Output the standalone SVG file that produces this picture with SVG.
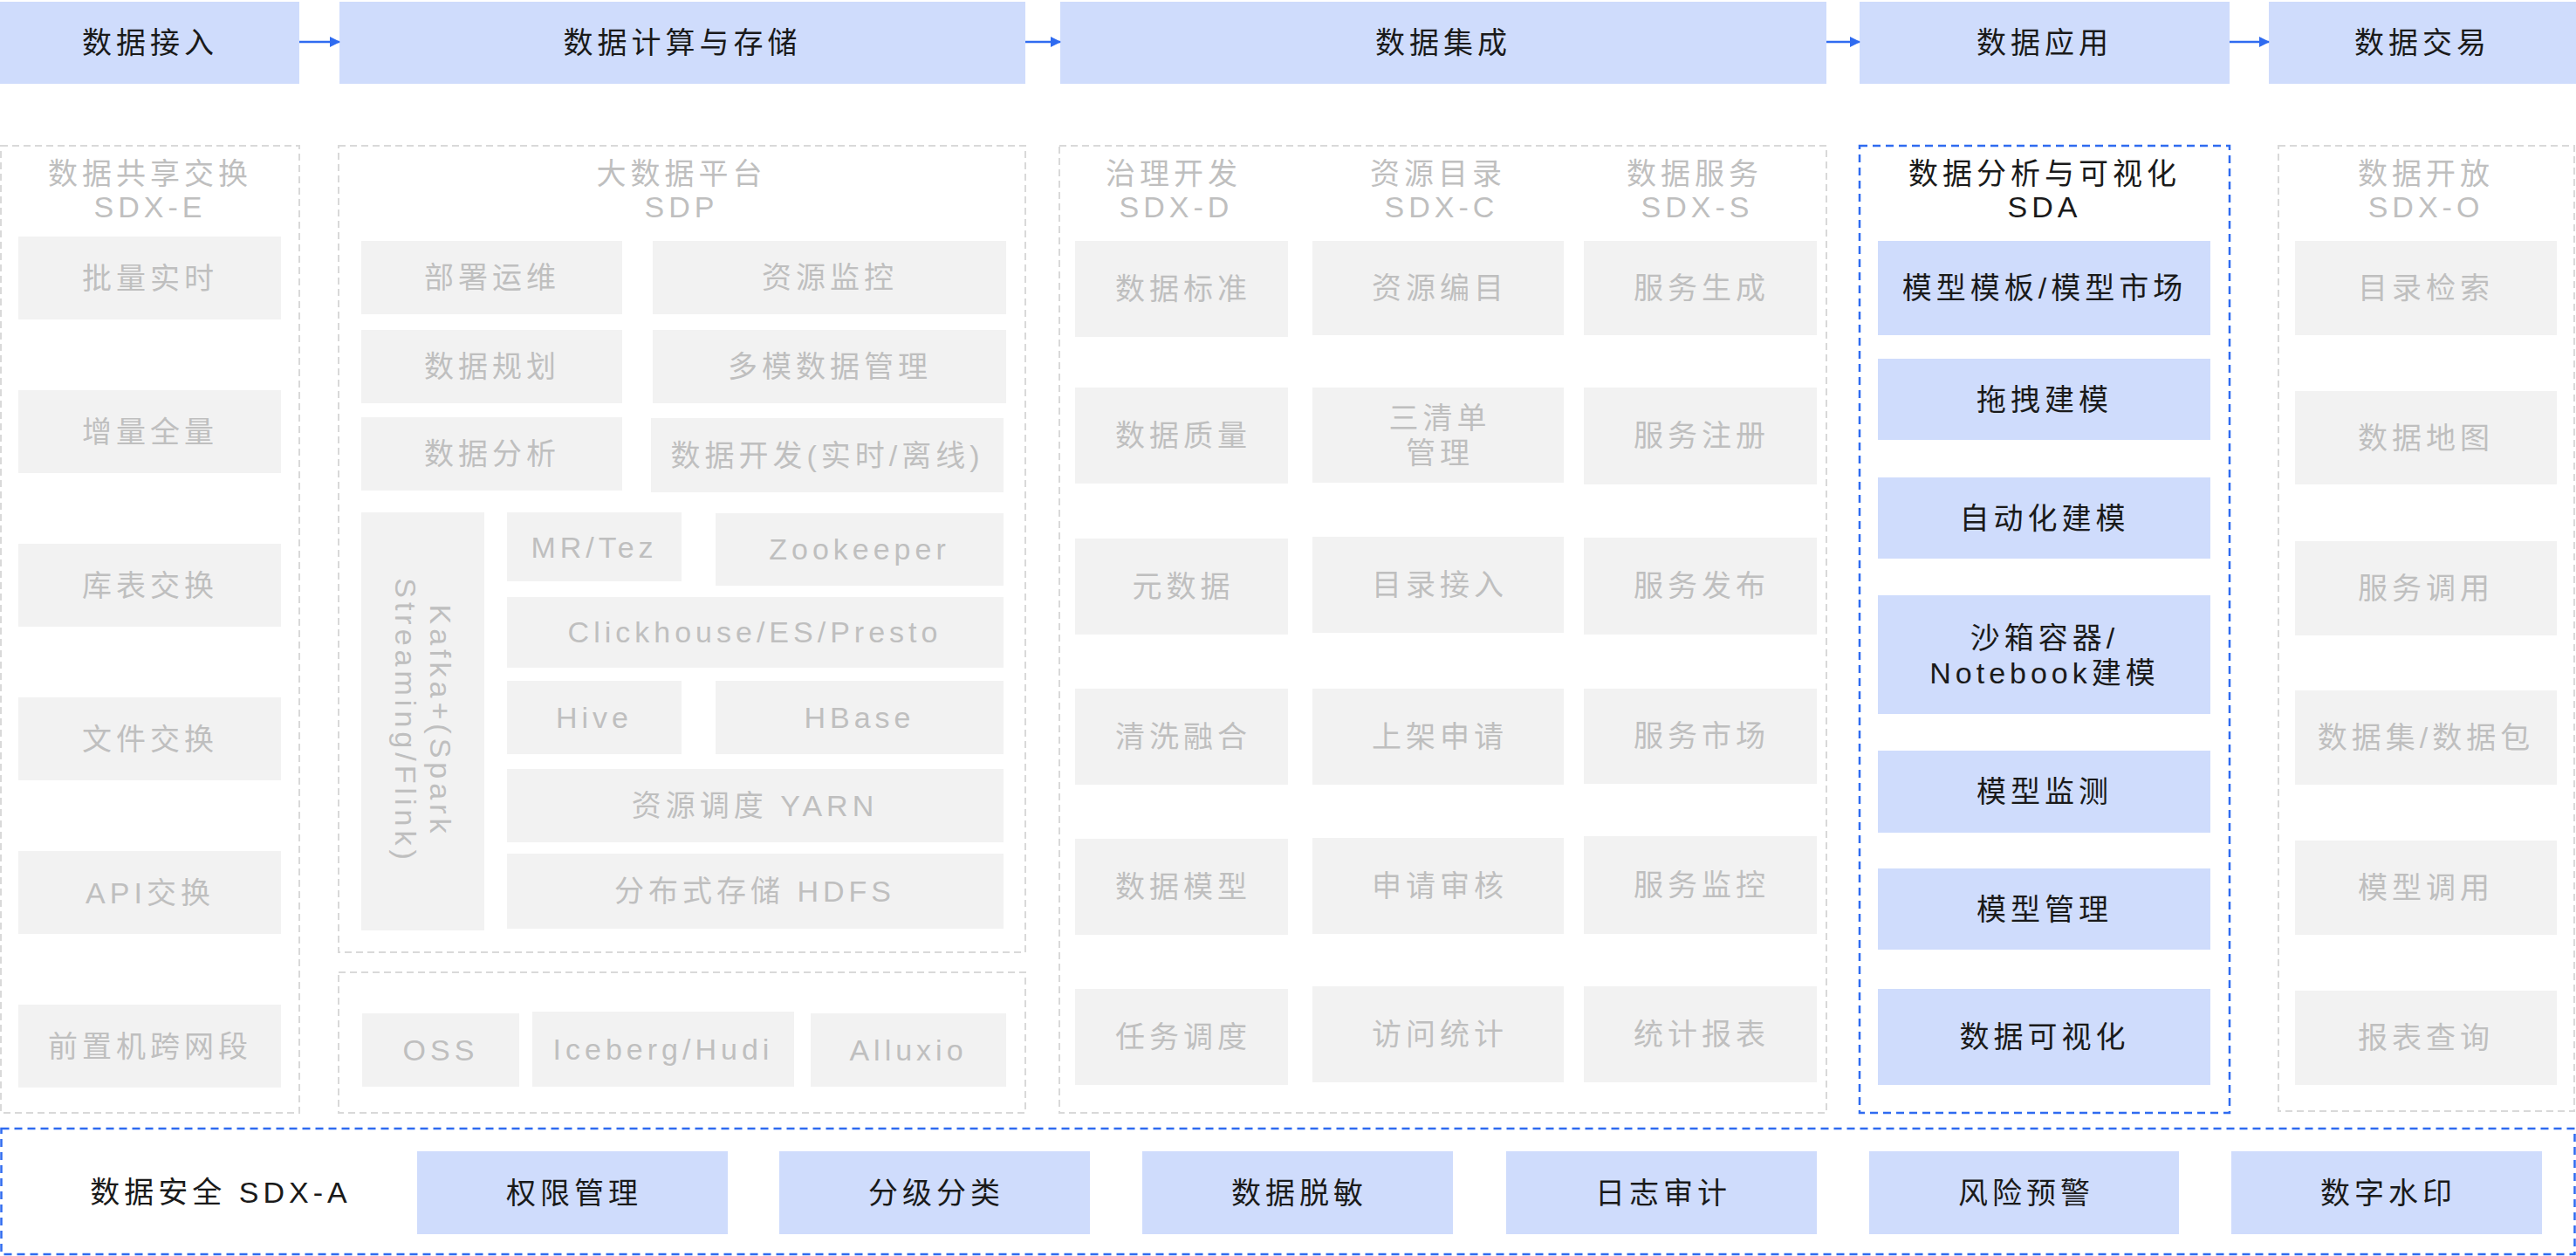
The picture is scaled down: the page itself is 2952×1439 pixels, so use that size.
<svg xmlns="http://www.w3.org/2000/svg" width="2952" height="1439" viewBox="0 0 2952 1439">
<style>
.pg{fill:none;stroke:#d9d9d9;stroke-width:2;stroke-dasharray:8 5}
.pb{fill:none;stroke:#2f6bf0;stroke-width:2.5;stroke-dasharray:9 6}
.g{fill:#f2f2f2}
.b{fill:#cfdcfc}
text{font-family:"Liberation Sans","Noto Sans CJK SC",sans-serif;font-size:34px;letter-spacing:5px;text-anchor:middle}
.tg{fill:#bfbfbf}
.tk{fill:#1a1a1a}
.arr{stroke:#2f6bf0;stroke-width:2.5;fill:none}
</style>
<defs>
<marker id="ah" markerUnits="userSpaceOnUse" markerWidth="12" markerHeight="12" refX="11" refY="6" orient="auto">
<path d="M0,0 L12,6 L0,12 Z" fill="#2f6bf0"/>
</marker>
</defs>
<rect width="2952" height="1439" fill="#ffffff"/>

<!-- top stage bar -->
<g id="stage-ingest"><rect class="b" x="0" y="2" width="343" height="94"/><text class="tk" x="172" y="61">数据接入</text></g>
<g id="stage-compute"><rect class="b" x="389" y="2" width="786" height="94"/><text class="tk" x="782" y="61">数据计算与存储</text></g>
<g id="stage-integrate"><rect class="b" x="1215" y="2" width="878" height="94"/><text class="tk" x="1654" y="61">数据集成</text></g>
<g id="stage-apply"><rect class="b" x="2131" y="2" width="424" height="94"/><text class="tk" x="2343" y="61">数据应用</text></g>
<g id="stage-trade"><rect class="b" x="2600" y="2" width="352" height="94"/><text class="tk" x="2776" y="61">数据交易</text></g>

<g id="connectors">
<line class="arr" x1="343" y1="48" x2="389" y2="48" marker-end="url(#ah)"/>
<line class="arr" x1="1175" y1="48" x2="1215" y2="48" marker-end="url(#ah)"/>
<line class="arr" x1="2093" y1="48" x2="2131" y2="48" marker-end="url(#ah)"/>
<line class="arr" x1="2555" y1="48" x2="2600" y2="48" marker-end="url(#ah)"/>
</g>

<!-- SDX-E -->
<g id="sdx-e">
<rect class="pg" x="1" y="167" width="342" height="1108"/>
<text class="tg" x="172" y="211">数据共享交换</text>
<text class="tg" x="172" y="249">SDX-E</text>
<g id="e1"><rect class="g" x="21" y="271" width="301" height="95"/><text class="tg" x="172" y="331">批量实时</text></g>
<g id="e2"><rect class="g" x="21" y="447" width="301" height="95"/><text class="tg" x="172" y="507">增量全量</text></g>
<g id="e3"><rect class="g" x="21" y="623" width="301" height="95"/><text class="tg" x="172" y="683">库表交换</text></g>
<g id="e4"><rect class="g" x="21" y="799" width="301" height="95"/><text class="tg" x="172" y="859">文件交换</text></g>
<g id="e5"><rect class="g" x="21" y="975" width="301" height="95"/><text class="tg" x="172" y="1035">API交换</text></g>
<g id="e6"><rect class="g" x="21" y="1151" width="301" height="95"/><text class="tg" x="172" y="1211">前置机跨网段</text></g>
</g>

<!-- SDP -->
<g id="sdp">
<rect class="pg" x="388" y="167" width="787" height="924"/>
<text class="tg" x="781" y="211">大数据平台</text>
<text class="tg" x="781" y="249">SDP</text>
<g id="p1"><rect class="g" x="414" y="276" width="299" height="84"/><text class="tg" x="564" y="330">部署运维</text></g>
<g id="p2"><rect class="g" x="748" y="276" width="405" height="84"/><text class="tg" x="951" y="330">资源监控</text></g>
<g id="p3"><rect class="g" x="414" y="378" width="299" height="84"/><text class="tg" x="564" y="432">数据规划</text></g>
<g id="p4"><rect class="g" x="748" y="378" width="405" height="84"/><text class="tg" x="951" y="432">多模数据管理</text></g>
<g id="p5"><rect class="g" x="414" y="478" width="299" height="84"/><text class="tg" x="564" y="532">数据分析</text></g>
<g id="p6"><rect class="g" x="746" y="479" width="404" height="85"/><text class="tg" x="948" y="534">数据开发(实时/离线)</text></g>
<g id="p7"><rect class="g" x="414" y="587" width="141" height="479"/><text class="tg" transform="translate(485,826) rotate(90)"><tspan x="0" y="-8">Kafka+(Spark</tspan><tspan x="0" y="32">Streaming/Flink)</tspan></text></g>
<g id="p8"><rect class="g" x="581" y="587" width="200" height="79"/><text class="tg" x="681" y="639">MR/Tez</text></g>
<g id="p9"><rect class="g" x="820" y="588" width="330" height="83"/><text class="tg" x="985" y="641">Zookeeper</text></g>
<g id="p10"><rect class="g" x="581" y="684" width="569" height="81"/><text class="tg" x="865" y="736">Clickhouse/ES/Presto</text></g>
<g id="p11"><rect class="g" x="581" y="780" width="200" height="84"/><text class="tg" x="681" y="834">Hive</text></g>
<g id="p12"><rect class="g" x="820" y="780" width="330" height="84"/><text class="tg" x="985" y="834">HBase</text></g>
<g id="p13"><rect class="g" x="581" y="881" width="569" height="84"/><text class="tg" x="865" y="935">资源调度 YARN</text></g>
<g id="p14"><rect class="g" x="581" y="978" width="569" height="86"/><text class="tg" x="865" y="1033">分布式存储 HDFS</text></g>
</g>

<g id="storage">
<rect class="pg" x="388" y="1114" width="787" height="161"/>
<g id="s1"><rect class="g" x="415" y="1161" width="180" height="84"/><text class="tg" x="505" y="1215">OSS</text></g>
<g id="s2"><rect class="g" x="610" y="1159" width="300" height="86"/><text class="tg" x="760" y="1214">Iceberg/Hudi</text></g>
<g id="s3"><rect class="g" x="929" y="1161" width="224" height="84"/><text class="tg" x="1041" y="1215">Alluxio</text></g>
</g>

<!-- SDX-D/C/S -->
<g id="sdx-dcs">
<rect class="pg" x="1214" y="167" width="879" height="1108"/>
<text class="tg" x="1345" y="211">治理开发</text>
<text class="tg" x="1348" y="249">SDX-D</text>
<text class="tg" x="1648" y="211">资源目录</text>
<text class="tg" x="1652" y="249">SDX-C</text>
<text class="tg" x="1942" y="211">数据服务</text>
<text class="tg" x="1945" y="249">SDX-S</text>
<g id="d1"><rect class="g" x="1232" y="276" width="244" height="110"/><text class="tg" x="1356" y="343">数据标准</text></g>
<g id="d2"><rect class="g" x="1232" y="444" width="244" height="110"/><text class="tg" x="1356" y="511">数据质量</text></g>
<g id="d3"><rect class="g" x="1232" y="617" width="244" height="110"/><text class="tg" x="1356" y="684">元数据</text></g>
<g id="d4"><rect class="g" x="1232" y="789" width="244" height="110"/><text class="tg" x="1356" y="856">清洗融合</text></g>
<g id="d5"><rect class="g" x="1232" y="961" width="244" height="110"/><text class="tg" x="1356" y="1028">数据模型</text></g>
<g id="d6"><rect class="g" x="1232" y="1133" width="244" height="110"/><text class="tg" x="1356" y="1200">任务调度</text></g>
<g id="c1"><rect class="g" x="1504" y="276" width="288" height="108"/><text class="tg" x="1650" y="342">资源编目</text></g>
<g id="c2"><rect class="g" x="1504" y="444" width="288" height="109"/><text class="tg" x="1650"><tspan x="1650" y="491">三清单</tspan><tspan x="1650" y="531">管理</tspan></text></g>
<g id="c3"><rect class="g" x="1504" y="615" width="288" height="110"/><text class="tg" x="1650" y="682">目录接入</text></g>
<g id="c4"><rect class="g" x="1504" y="789" width="288" height="110"/><text class="tg" x="1650" y="856">上架申请</text></g>
<g id="c5"><rect class="g" x="1504" y="960" width="288" height="110"/><text class="tg" x="1650" y="1027">申请审核</text></g>
<g id="c6"><rect class="g" x="1504" y="1130" width="288" height="110"/><text class="tg" x="1650" y="1197">访问统计</text></g>
<g id="sv1"><rect class="g" x="1815" y="276" width="267" height="108"/><text class="tg" x="1950" y="342">服务生成</text></g>
<g id="sv2"><rect class="g" x="1815" y="444" width="267" height="111"/><text class="tg" x="1950" y="511">服务注册</text></g>
<g id="sv3"><rect class="g" x="1815" y="616" width="267" height="111"/><text class="tg" x="1950" y="683">服务发布</text></g>
<g id="sv4"><rect class="g" x="1815" y="789" width="267" height="109"/><text class="tg" x="1950" y="855">服务市场</text></g>
<g id="sv5"><rect class="g" x="1815" y="958" width="267" height="112"/><text class="tg" x="1950" y="1026">服务监控</text></g>
<g id="sv6"><rect class="g" x="1815" y="1130" width="267" height="110"/><text class="tg" x="1950" y="1197">统计报表</text></g>
</g>

<!-- SDA -->
<g id="sda">
<rect class="pb" x="2131" y="167" width="424" height="1108"/>
<text class="tk" x="2343" y="211">数据分析与可视化</text>
<text class="tk" x="2343" y="249">SDA</text>
<g id="a1"><rect class="b" x="2152" y="276" width="381" height="108"/><text class="tk" x="2343" y="342">模型模板/模型市场</text></g>
<g id="a2"><rect class="b" x="2152" y="411" width="381" height="93"/><text class="tk" x="2343" y="470">拖拽建模</text></g>
<g id="a3"><rect class="b" x="2152" y="547" width="381" height="93"/><text class="tk" x="2343" y="606">自动化建模</text></g>
<g id="a4"><rect class="b" x="2152" y="682" width="381" height="136"/><text class="tk"><tspan x="2343" y="743">沙箱容器/</tspan><tspan x="2343" y="783">Notebook建模</tspan></text></g>
<g id="a5"><rect class="b" x="2152" y="860" width="381" height="94"/><text class="tk" x="2343" y="919">模型监测</text></g>
<g id="a6"><rect class="b" x="2152" y="995" width="381" height="93"/><text class="tk" x="2343" y="1054">模型管理</text></g>
<g id="a7"><rect class="b" x="2152" y="1133" width="381" height="110"/><text class="tk" x="2343" y="1200">数据可视化</text></g>
</g>

<!-- SDX-O -->
<g id="sdx-o">
<rect class="pg" x="2611" y="167" width="339" height="1106"/>
<text class="tg" x="2780" y="211">数据开放</text>
<text class="tg" x="2780" y="249">SDX-O</text>
<g id="o1"><rect class="g" x="2630" y="276" width="300" height="108"/><text class="tg" x="2780" y="342">目录检索</text></g>
<g id="o2"><rect class="g" x="2630" y="448" width="300" height="107"/><text class="tg" x="2780" y="514">数据地图</text></g>
<g id="o3"><rect class="g" x="2630" y="620" width="300" height="108"/><text class="tg" x="2780" y="686">服务调用</text></g>
<g id="o4"><rect class="g" x="2630" y="791" width="300" height="108"/><text class="tg" x="2780" y="857">数据集/数据包</text></g>
<g id="o5"><rect class="g" x="2630" y="963" width="300" height="108"/><text class="tg" x="2780" y="1029">模型调用</text></g>
<g id="o6"><rect class="g" x="2630" y="1135" width="300" height="108"/><text class="tg" x="2780" y="1201">报表查询</text></g>
</g>

<!-- Security -->
<g id="sdx-a">
<rect class="pb" x="1.5" y="1293" width="2949" height="144"/>
<text class="tk" x="253" y="1378">数据安全 SDX-A</text>
<g id="sa1"><rect class="b" x="478" y="1319" width="356" height="95"/><text class="tk" x="658" y="1379">权限管理</text></g>
<g id="sa2"><rect class="b" x="893" y="1319" width="356" height="95"/><text class="tk" x="1073" y="1379">分级分类</text></g>
<g id="sa3"><rect class="b" x="1309" y="1319" width="356" height="95"/><text class="tk" x="1489" y="1379">数据脱敏</text></g>
<g id="sa4"><rect class="b" x="1726" y="1319" width="356" height="95"/><text class="tk" x="1906" y="1379">日志审计</text></g>
<g id="sa5"><rect class="b" x="2142" y="1319" width="355" height="95"/><text class="tk" x="2322" y="1379">风险预警</text></g>
<g id="sa6"><rect class="b" x="2557" y="1319" width="356" height="95"/><text class="tk" x="2737" y="1379">数字水印</text></g>
</g>
</svg>
